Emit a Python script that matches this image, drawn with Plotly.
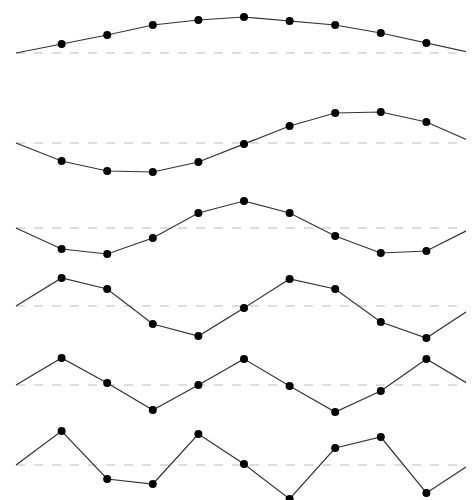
import plotly.graph_objects as go

x = list(range(11))
s1 = [0, 9, 18, 28, 33, 36, 32, 28, 20, 10, 0]
s2 = [0, -18, -28, -29, -19, -1, 17, 30, 31, 21, 1]
s3 = [0, -21, -26, -10, 15, 27, 15, -8, -25, -23, 0]
s4 = [0, 28, 17, -18, -30, -2, 27, 17, -16, -32, -2]
s5 = [0, 27, 2, -25, 0, 26, -1, -27, -6, 26, -1]
s6 = [0, 34, -14, -19, 31, 1, -34, 17, 28, -28, 2]
series = [s1, s2, s3, s4, s5, s6]
baselines_px = [45, 135, 220, 298, 377, 457]

H = 500
fig = go.Figure()
for i, (s, b) in enumerate(zip(series, baselines_px)):
    n = i + 1
    ya = "y" if n == 1 else f"y{n}"
    fig.add_trace(go.Scatter(x=x, y=s, mode="lines", line=dict(color="#333", width=1.2),
                             xaxis="x", yaxis=ya, showlegend=False, hoverinfo="skip"))
    fig.add_trace(go.Scatter(x=x[1:-1], y=s[1:-1], mode="markers",
                             marker=dict(color="black", size=8),
                             xaxis="x", yaxis=ya, showlegend=False))
    c = 1 - b / H
    h = 40 / H
    key = "yaxis" if n == 1 else f"yaxis{n}"
    fig.layout[key] = dict(domain=[c - h, c + h], range=[-40, 40], visible=False, fixedrange=True)
    fig.add_shape(type="line", x0=0, x1=10.15, y0=0, y1=0, xref="x", yref=ya,
                  line=dict(color="#bbb", width=1, dash="dash"), layer="below")

fig.update_layout(width=474, height=500, margin=dict(l=0, r=0, t=0, b=0),
                  plot_bgcolor="white", paper_bgcolor="white",
                  xaxis=dict(range=[-8 / 45.6, 10 + 10 / 45.6], visible=False))
fig.write_html("out.html")
